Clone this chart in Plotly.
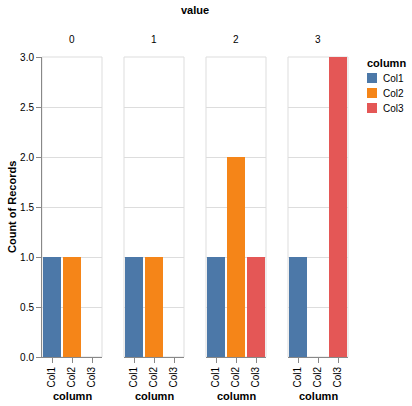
import plotly.graph_objects as go

facet_values = ["0", "1", "2", "3"]
columns = ["Col1", "Col2", "Col3"]
col1_counts = [1, 1, 1, 1]
col2_counts = [1, 1, 2, 0]
col3_counts = [0, 0, 1, 3]
colors = {"Col1": "#4c78a8", "Col2": "#f58518", "Col3": "#e45756"}
y_ticks = [0, 0.5, 1, 1.5, 2, 2.5, 3]

counts = {"Col1": col1_counts, "Col2": col2_counts, "Col3": col3_counts}

W, H = 412, 406
FONT = "Liberation Sans, Arial, sans-serif"
panel_left = [42, 124, 206, 288]
panel_w = 60
y_top, y_bot = 57, 357

fig = go.Figure()
for col in columns:
    for i, v in enumerate(facet_values):
        c = counts[col][i]
        if c == 0:
            continue
        ax = "" if i == 0 else str(i + 1)
        fig.add_trace(go.Bar(
            x=[col], y=[c], name=col, legendgroup=col,
            showlegend=False,
            marker=dict(color=colors[col], line=dict(width=0)),
            xaxis="x" + ax, yaxis="y" + ax,
            hovertemplate="%{x}: %{y}<extra></extra>",
        ))

ydom = [1 - y_bot / H, 1 - y_top / H]
layout = dict(
    width=W, height=H, margin=dict(l=0, r=0, t=0, b=0, autoexpand=False),
    paper_bgcolor="white", plot_bgcolor="white",
    barmode="overlay", bargap=0.1,
    font=dict(family=FONT, size=10, color="#000"),
    showlegend=False,
)
shapes = []
annotations = []
for i in range(4):
    ax = "" if i == 0 else str(i + 1)
    x0 = panel_left[i] / W
    x1 = (panel_left[i] + panel_w) / W
    layout["xaxis" + ax] = dict(
        domain=[x0, x1], type="category", categoryorder="array",
        categoryarray=columns, range=[-0.5, 2.5], automargin=False,
        anchor="y" + ax, showline=True, linecolor="#888", linewidth=1,
        ticks="outside", ticklen=5, tickcolor="#888", tickangle=-90,
        tickfont=dict(size=10, color="#000"), showgrid=False, fixedrange=True,
    )
    layout["yaxis" + ax] = dict(
        domain=ydom, range=[0, 3], anchor="x" + ax, automargin=False,
        tickvals=y_ticks, ticktext=["%.1f" % t for t in y_ticks],
        showgrid=True, gridcolor="#ddd", gridwidth=1,
        zeroline=False, fixedrange=True,
        showline=(i == 0), linecolor="#888", linewidth=1,
        ticks="outside" if i == 0 else "", ticklen=5, tickcolor="#888",
        showticklabels=(i == 0), tickfont=dict(size=10, color="#000"),
    )
    shapes.append(dict(type="rect", xref="paper", yref="paper",
                       x0=x0, x1=x1, y0=ydom[0], y1=ydom[1],
                       line=dict(color="#ddd", width=1), layer="below"))
    cx = (panel_left[i] + panel_w / 2) / W
    annotations.append(dict(text=facet_values[i], x=cx, y=1 - 40 / H,
                            xref="paper", yref="paper", showarrow=False,
                            font=dict(size=10, color="#000"),
                            xanchor="center", yanchor="middle"))
    annotations.append(dict(text="<b>column</b>", x=cx, y=1 - 396 / H,
                            xref="paper", yref="paper", showarrow=False,
                            font=dict(size=11, color="#000"),
                            xanchor="center", yanchor="middle"))

annotations.append(dict(text="<b>value</b>", x=(42 + 348) / 2 / W, y=1 - 10 / H,
                        xref="paper", yref="paper", showarrow=False,
                        font=dict(size=11, color="#000"),
                        xanchor="center", yanchor="middle"))
annotations.append(dict(text="<b>Count of Records</b>", x=12 / W,
                        y=1 - (y_top + y_bot) / 2 / H,
                        xref="paper", yref="paper", showarrow=False, textangle=-90,
                        font=dict(size=11, color="#000"),
                        xanchor="center", yanchor="middle"))

# legend (drawn as layout shapes + text)
leg_x, leg_y0, leg_step = 367, 78, 15
annotations.append(dict(text="<b>column</b>", x=(leg_x - 2) / W, y=1 - 63 / H,
                        xref="paper", yref="paper", showarrow=False,
                        font=dict(size=11, color="#000"),
                        xanchor="left", yanchor="middle"))
for k, col in enumerate(columns):
    cy = leg_y0 + k * leg_step
    shapes.append(dict(type="rect", xref="paper", yref="paper",
                       x0=leg_x / W, x1=(leg_x + 10) / W,
                       y0=1 - (cy + 5) / H, y1=1 - (cy - 5) / H,
                       fillcolor=colors[col], line=dict(width=0)))
    annotations.append(dict(text=col, x=(leg_x + 14) / W, y=1 - cy / H,
                            xref="paper", yref="paper", showarrow=False,
                            font=dict(size=10, color="#000"),
                            xanchor="left", yanchor="middle"))

layout["shapes"] = shapes
layout["annotations"] = annotations
fig.update_layout(**layout)
fig.write_html("out.html")
